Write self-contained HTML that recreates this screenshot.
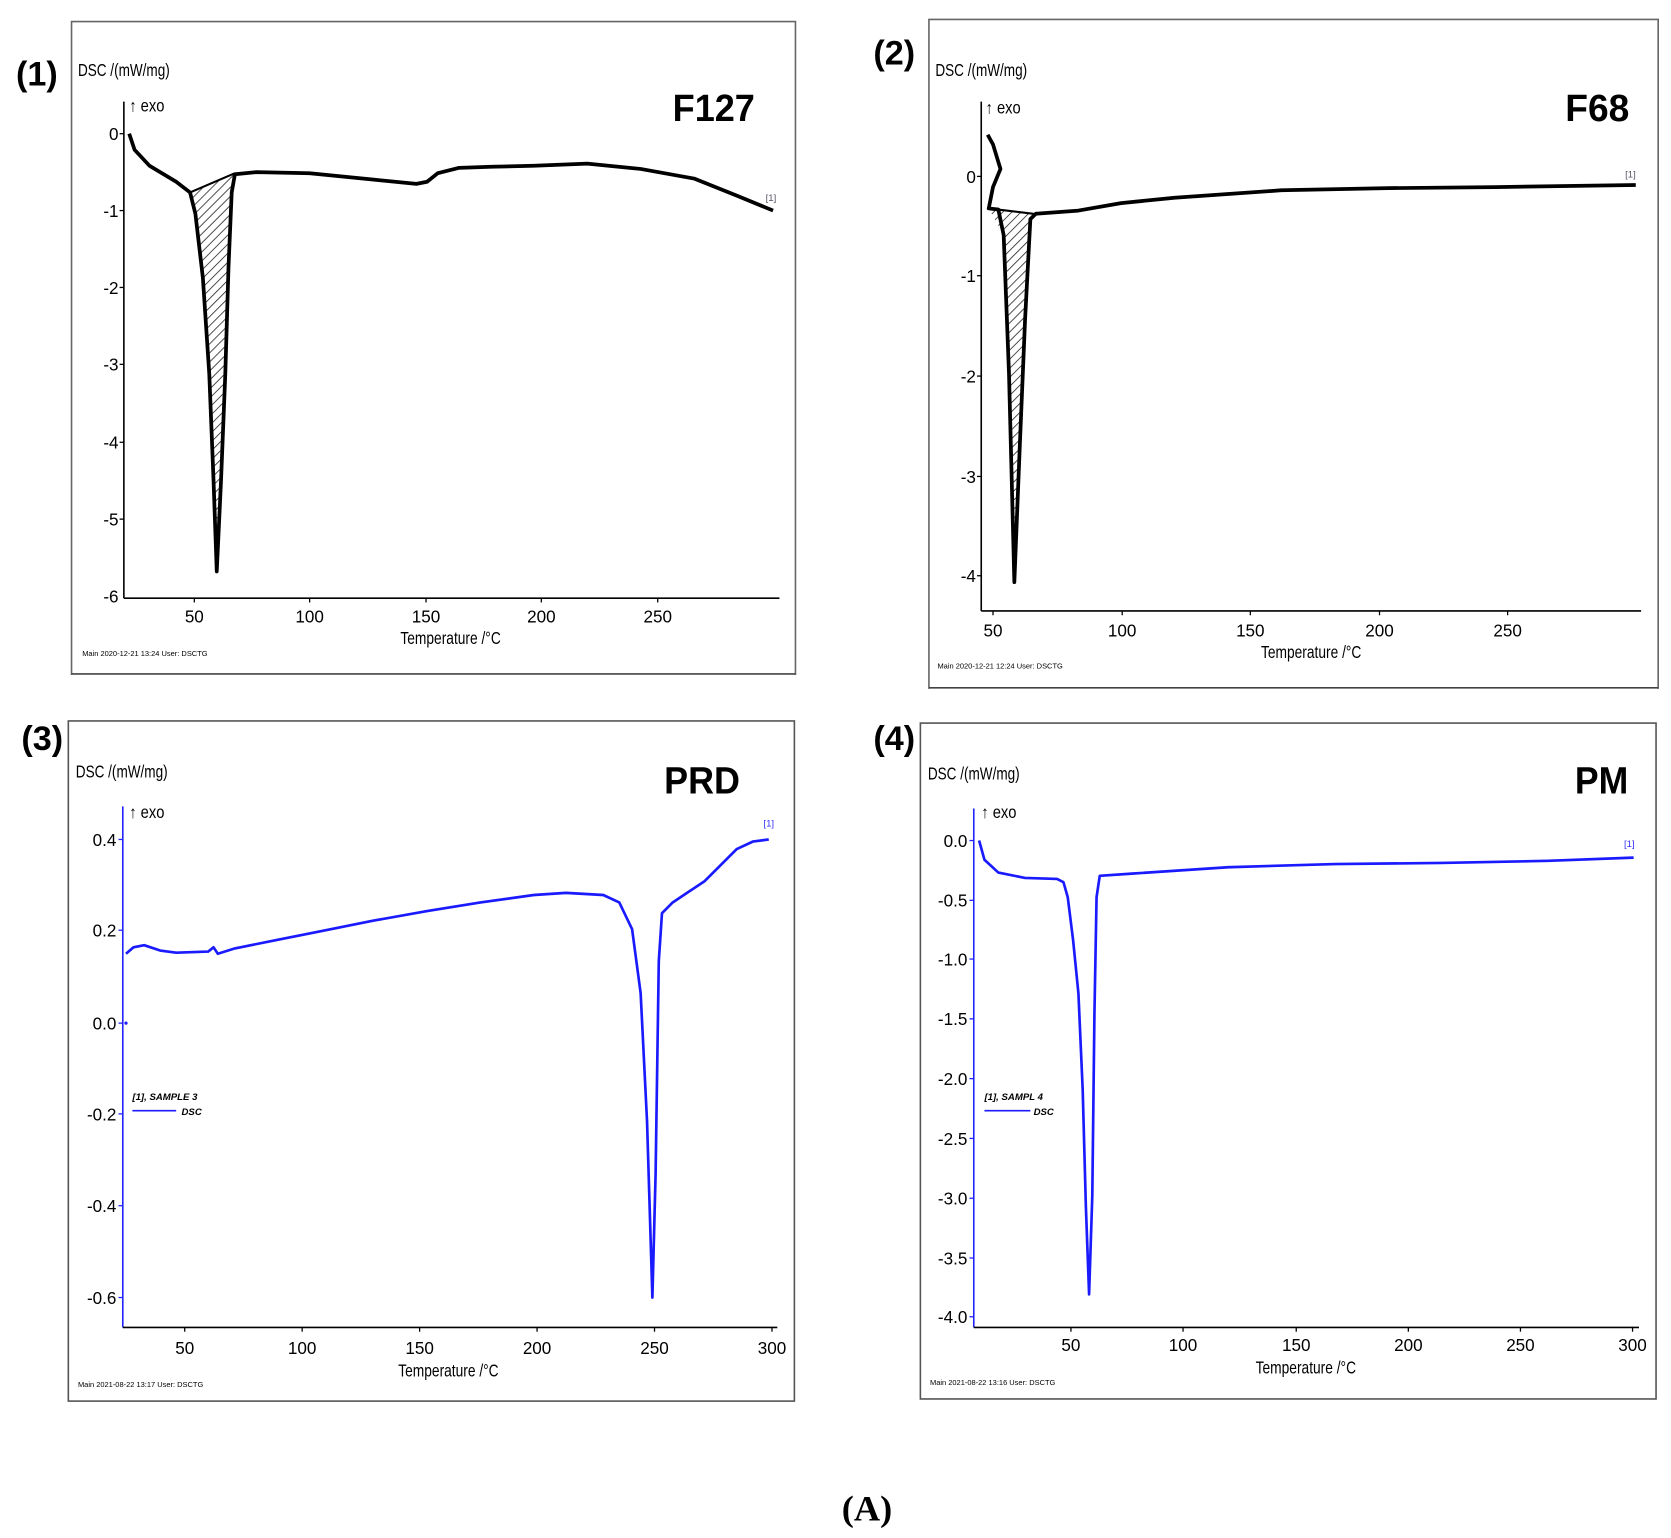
<!DOCTYPE html>
<html><head><meta charset="utf-8"><style>
html,body{margin:0;padding:0;background:#fff}
svg{display:block}
.n{font-family:"Liberation Sans",sans-serif;}
.b{font-weight:bold}
</style></head><body>
<svg width="1671" height="1538" viewBox="0 0 1565 1440" xmlns="http://www.w3.org/2000/svg" class="n">
<defs>
<pattern id="h" width="6" height="6" patternUnits="userSpaceOnUse" patternTransform="rotate(45)">
<line x1="0" y1="0" x2="0" y2="6" stroke="#222" stroke-width="1.5"/></pattern>
</defs>
<rect width="1565" height="1440" fill="#fff"/>

<!-- Panel 1 -->
<polyline points="67,632 67,20 745,20 745,632" fill="none" stroke="#666" stroke-width="1.5"/>
<line x1="67" y1="631" x2="745" y2="631" stroke="#444" stroke-width="1.5"/>
<text x="15" y="80" font-size="32" class="b">(1)</text>
<text x="73" y="71" font-size="16" textLength="86" lengthAdjust="spacingAndGlyphs">DSC /(mW/mg)</text>
<text x="121" y="104" font-size="16" textLength="33" lengthAdjust="spacingAndGlyphs">↑ exo</text>
<text x="630" y="113" font-size="36" class="b" textLength="77" lengthAdjust="spacingAndGlyphs">F127</text>
<line x1="116" y1="95" x2="116" y2="560" stroke="#000" stroke-width="1.5"/>
<line x1="116" y1="560" x2="730" y2="560" stroke="#000" stroke-width="1.5"/>
<g stroke="#000" stroke-width="1.2">
<line x1="112" y1="125" x2="116" y2="125"/><line x1="112" y1="197" x2="116" y2="197"/><line x1="112" y1="269" x2="116" y2="269"/><line x1="112" y1="341" x2="116" y2="341"/><line x1="112" y1="414" x2="116" y2="414"/><line x1="112" y1="486" x2="116" y2="486"/>
<line x1="182" y1="560" x2="182" y2="564"/><line x1="290" y1="560" x2="290" y2="564"/><line x1="399" y1="560" x2="399" y2="564"/><line x1="507" y1="560" x2="507" y2="564"/><line x1="616" y1="560" x2="616" y2="564"/></g>
<g font-size="16" text-anchor="end">
<text x="111" y="131">0</text><text x="111" y="203">-1</text><text x="111" y="275">-2</text><text x="111" y="347">-3</text><text x="111" y="420">-4</text><text x="111" y="492">-5</text><text x="111" y="564">-6</text></g>
<g font-size="16" text-anchor="middle">
<text x="182" y="583">50</text><text x="290" y="583">100</text><text x="399" y="583">150</text><text x="507" y="583">200</text><text x="616" y="583">250</text>
<text x="422" y="603" textLength="94" lengthAdjust="spacingAndGlyphs">Temperature /°C</text></g>
<path d="M178,180 L220,162 L217,180 L214,250 L211,350 L207,450 L203,535 L200,450 L196,350 L190,260 L183,200 Z" fill="url(#h)"/>
<polyline points="121,125 126,140 140,155 165,170 178,180 183,200 190,260 196,350 200,450 203,535 207,450 211,350 214,250 217,180 220,163 240,161 290,162 350,168 390,172 400,170 410,162 430,157 460,156 500,155 550,153 600,158 650,167 690,183 724,197" fill="none" stroke="#000" stroke-width="3.5" stroke-linejoin="round"/>
<line x1="178" y1="180" x2="220" y2="162" stroke="#000" stroke-width="2"/>
<text x="77" y="614" font-size="7">Main  2020-12-21 13:24   User: DSCTG</text>
<text x="717" y="188" font-size="9" fill="#556">[1]</text>

<!-- Panel 2 -->
<polyline points="870,645 870,18 1553,18 1553,645" fill="none" stroke="#666" stroke-width="1.5"/>
<line x1="870" y1="644" x2="1553" y2="644" stroke="#444" stroke-width="1.5"/>
<text x="818" y="60" font-size="32" class="b">(2)</text>
<text x="876" y="71" font-size="16" textLength="86" lengthAdjust="spacingAndGlyphs">DSC /(mW/mg)</text>
<text x="923" y="106" font-size="16" textLength="33" lengthAdjust="spacingAndGlyphs">↑ exo</text>
<text x="1466" y="113" font-size="36" class="b" textLength="60" lengthAdjust="spacingAndGlyphs">F68</text>
<line x1="919" y1="95" x2="919" y2="572" stroke="#000" stroke-width="1.5"/>
<line x1="919" y1="572" x2="1537" y2="572" stroke="#000" stroke-width="1.5"/>
<g stroke="#000" stroke-width="1.2">
<line x1="915" y1="165" x2="919" y2="165"/><line x1="915" y1="258" x2="919" y2="258"/><line x1="915" y1="352" x2="919" y2="352"/><line x1="915" y1="446" x2="919" y2="446"/><line x1="915" y1="539" x2="919" y2="539"/>
<line x1="930" y1="572" x2="930" y2="576"/><line x1="1051" y1="572" x2="1051" y2="576"/><line x1="1171" y1="572" x2="1171" y2="576"/><line x1="1292" y1="572" x2="1292" y2="576"/><line x1="1412" y1="572" x2="1412" y2="576"/></g>
<g font-size="16" text-anchor="end">
<text x="914" y="171">0</text><text x="914" y="264">-1</text><text x="914" y="358">-2</text><text x="914" y="452">-3</text><text x="914" y="545">-4</text></g>
<g font-size="16" text-anchor="middle">
<text x="930" y="596">50</text><text x="1051" y="596">100</text><text x="1171" y="596">150</text><text x="1292" y="596">200</text><text x="1412" y="596">250</text>
<text x="1228" y="616" textLength="94" lengthAdjust="spacingAndGlyphs">Temperature /°C</text></g>
<path d="M926,195 L968,200 L965,210 L960,300 L955,420 L950,545 L945,350 L940,220 Z" fill="url(#h)"/>
<polyline points="925,126 930,135 937,158 930,175 926,195 935,196 940,220 945,350 950,545 955,420 960,300 965,205 970,200 1010,197 1050,190 1100,185 1200,178 1300,176 1400,175 1532,173" fill="none" stroke="#000" stroke-width="3.5" stroke-linejoin="round"/>
<line x1="926" y1="195" x2="968" y2="200" stroke="#000" stroke-width="2"/>
<text x="878" y="626" font-size="7">Main  2020-12-21 12:24   User: DSCTG</text>
<text x="1522" y="166" font-size="9" fill="#556">[1]</text>

<!-- Panel 3 -->
<rect x="64" y="675" width="680" height="637" fill="none" stroke="#555" stroke-width="1.5"/>
<text x="20" y="702" font-size="32" class="b">(3)</text>
<text x="71" y="728" font-size="16" textLength="86" lengthAdjust="spacingAndGlyphs">DSC /(mW/mg)</text>
<text x="121" y="766" font-size="16" textLength="33" lengthAdjust="spacingAndGlyphs">↑ exo</text>
<text x="622" y="743" font-size="36" class="b" textLength="71" lengthAdjust="spacingAndGlyphs">PRD</text>
<line x1="115" y1="755" x2="115" y2="1243" stroke="#22f" stroke-width="1.5"/>
<line x1="115" y1="1243" x2="728" y2="1243" stroke="#000" stroke-width="1.5"/>
<g stroke="#22f" stroke-width="1.2">
<line x1="111" y1="786" x2="115" y2="786"/><line x1="111" y1="871" x2="115" y2="871"/><line x1="111" y1="958" x2="115" y2="958"/><line x1="111" y1="1043" x2="115" y2="1043"/><line x1="111" y1="1129" x2="115" y2="1129"/><line x1="111" y1="1215" x2="115" y2="1215"/></g>
<g stroke="#000" stroke-width="1.2">
<line x1="173" y1="1243" x2="173" y2="1247"/><line x1="283" y1="1243" x2="283" y2="1247"/><line x1="393" y1="1243" x2="393" y2="1247"/><line x1="503" y1="1243" x2="503" y2="1247"/><line x1="613" y1="1243" x2="613" y2="1247"/><line x1="723" y1="1243" x2="723" y2="1247"/></g>
<g font-size="16" text-anchor="end">
<text x="109" y="792">0.4</text><text x="109" y="877">0.2</text><text x="109" y="964">0.0</text><text x="109" y="1049">-0.2</text><text x="109" y="1135">-0.4</text><text x="109" y="1221">-0.6</text></g>
<g font-size="16" text-anchor="middle">
<text x="173" y="1268">50</text><text x="283" y="1268">100</text><text x="393" y="1268">150</text><text x="503" y="1268">200</text><text x="613" y="1268">250</text><text x="723" y="1268">300</text>
<text x="420" y="1289" textLength="94" lengthAdjust="spacingAndGlyphs">Temperature /°C</text></g>
<polyline points="118,893 125,887 135,885 150,890 165,892 195,891 200,887 204,893 220,888 260,880 300,872 350,862 400,853 450,845 500,838 530,836 565,838 580,845 592,870 600,930 606,1050 611,1215 614,1100 617,900 620,855 630,845 645,835 660,825 675,810 690,795 705,788 720,786" fill="none" stroke="#1a1aff" stroke-width="2.5" stroke-linejoin="round"/>
<circle cx="118" cy="958" r="1.5" fill="#1a1aff"/>
<text x="124" y="1030" font-size="9" font-style="italic" class="b">[1], SAMPLE 3</text>
<line x1="124" y1="1040" x2="165" y2="1040" stroke="#1a1aff" stroke-width="1.5"/>
<text x="170" y="1044" font-size="9" font-style="italic" class="b">DSC</text>
<text x="715" y="774" font-size="9" fill="#33f">[1]</text>
<text x="73" y="1299" font-size="7">Main  2021-08-22 13:17   User: DSCTG</text>

<!-- Panel 4 -->
<rect x="862" y="677" width="689" height="633" fill="none" stroke="#555" stroke-width="1.5"/>
<text x="818" y="702" font-size="32" class="b">(4)</text>
<text x="869" y="730" font-size="16" textLength="86" lengthAdjust="spacingAndGlyphs">DSC /(mW/mg)</text>
<text x="919" y="766" font-size="16" textLength="33" lengthAdjust="spacingAndGlyphs">↑ exo</text>
<text x="1475" y="743" font-size="36" class="b" textLength="50" lengthAdjust="spacingAndGlyphs">PM</text>
<line x1="912" y1="757" x2="912" y2="1243" stroke="#22f" stroke-width="1.5"/>
<line x1="912" y1="1243" x2="1535" y2="1243" stroke="#000" stroke-width="1.5"/>
<g stroke="#22f" stroke-width="1.2">
<line x1="908" y1="787" x2="912" y2="787"/><line x1="908" y1="843" x2="912" y2="843"/><line x1="908" y1="898" x2="912" y2="898"/><line x1="908" y1="954" x2="912" y2="954"/><line x1="908" y1="1010" x2="912" y2="1010"/><line x1="908" y1="1066" x2="912" y2="1066"/><line x1="908" y1="1122" x2="912" y2="1122"/><line x1="908" y1="1178" x2="912" y2="1178"/><line x1="908" y1="1233" x2="912" y2="1233"/></g>
<g stroke="#000" stroke-width="1.2">
<line x1="1003" y1="1243" x2="1003" y2="1247"/><line x1="1108" y1="1243" x2="1108" y2="1247"/><line x1="1214" y1="1243" x2="1214" y2="1247"/><line x1="1319" y1="1243" x2="1319" y2="1247"/><line x1="1424" y1="1243" x2="1424" y2="1247"/><line x1="1529" y1="1243" x2="1529" y2="1247"/></g>
<g font-size="16" text-anchor="end">
<text x="906" y="793">0.0</text><text x="906" y="849">-0.5</text><text x="906" y="904">-1.0</text><text x="906" y="960">-1.5</text><text x="906" y="1016">-2.0</text><text x="906" y="1072">-2.5</text><text x="906" y="1128">-3.0</text><text x="906" y="1184">-3.5</text><text x="906" y="1239">-4.0</text></g>
<g font-size="16" text-anchor="middle">
<text x="1003" y="1265">50</text><text x="1108" y="1265">100</text><text x="1214" y="1265">150</text><text x="1319" y="1265">200</text><text x="1424" y="1265">250</text><text x="1529" y="1265">300</text>
<text x="1223" y="1286" textLength="94" lengthAdjust="spacingAndGlyphs">Temperature /°C</text></g>
<polyline points="917,787 922,805 935,817 960,822 990,823 996,826 1000,840 1005,880 1010,930 1014,1020 1017,1130 1020,1212 1023,1120 1025,950 1027,840 1030,820 1060,818 1150,812 1250,809 1350,808 1450,806 1530,803" fill="none" stroke="#1a1aff" stroke-width="2.5" stroke-linejoin="round"/>
<text x="922" y="1030" font-size="9" font-style="italic" class="b">[1], SAMPL 4</text>
<line x1="922" y1="1040" x2="965" y2="1040" stroke="#1a1aff" stroke-width="1.5"/>
<text x="968" y="1044" font-size="9" font-style="italic" class="b">DSC</text>
<text x="1521" y="793" font-size="9" fill="#33f">[1]</text>
<text x="871" y="1297" font-size="7">Main  2021-08-22 13:16   User: DSCTG</text>

<text x="812" y="1424" font-size="34" font-weight="bold" text-anchor="middle" font-family="Liberation Serif,serif">(A)</text>
</svg>
</body></html>
